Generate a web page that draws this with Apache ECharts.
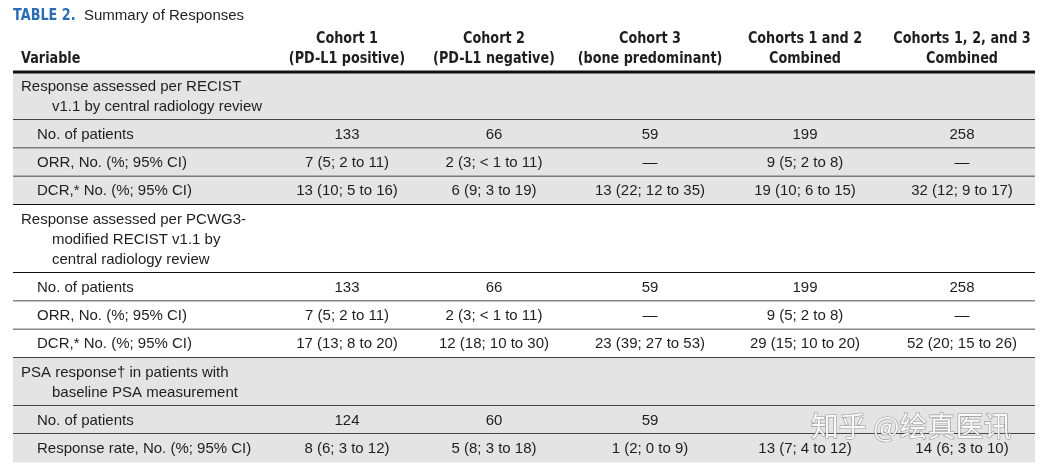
<!DOCTYPE html>
<html><head><meta charset="utf-8">
<script src="https://cdn.jsdelivr.net/npm/echarts@6/dist/echarts.min.js"></script>
<style>html,body{margin:0;padding:0;background:#fff}#c{width:1042px;height:474px}</style>
</head><body><div id="c"></div>
<script>
// ---- data ----
const columnHeaders = [["", "Variable"], ["Cohort 1", "(PD-L1 positive)"], ["Cohort 2", "(PD-L1 negative)"], ["Cohort 3", "(bone predominant)"], ["Cohorts 1 and 2", "Combined"], ["Cohorts 1, 2, and 3", "Combined"]];
const sectionLabels = [
  ["Response assessed per RECIST", "v1.1 by central radiology review"],
  ["Response assessed per PCWG3-", "modified RECIST v1.1 by", "central radiology review"],
  ["PSA response† in patients with", "baseline PSA measurement"]
];
const rowLabels = [
  ["No. of patients", "ORR, No. (%; 95% CI)", "DCR,* No. (%; 95% CI)"],
  ["No. of patients", "ORR, No. (%; 95% CI)", "DCR,* No. (%; 95% CI)"],
  ["No. of patients", "Response rate, No. (%; 95% CI)"]
];
const rowValues = [
  [["133","66","59","199","258"],
   ["7 (5; 2 to 11)","2 (3; < 1 to 11)","—","9 (5; 2 to 8)","—"],
   ["13 (10; 5 to 16)","6 (9; 3 to 19)","13 (22; 12 to 35)","19 (10; 6 to 15)","32 (12; 9 to 17)"]],
  [["133","66","59","199","258"],
   ["7 (5; 2 to 11)","2 (3; < 1 to 11)","—","9 (5; 2 to 8)","—"],
   ["17 (13; 8 to 20)","12 (18; 10 to 30)","23 (39; 27 to 53)","29 (15; 10 to 20)","52 (20; 15 to 26)"]],
  [["124","60","59","",""],
   ["8 (6; 3 to 12)","5 (8; 3 to 18)","1 (2; 0 to 9)","13 (7; 4 to 12)","14 (6; 3 to 10)"]]
];
// ---- layout ----
const colX = [21, 347, 494, 650, 805, 962];
const tableLeft = 13, tableRight = 1035;
const headerTop = 25, headerBottom = 72;
const sectionLineH = 20, dataRowH = 28.3;
const sectionShade = ['#e4e4e4', '#ffffff', '#e4e4e4'];

const rows = [];
let y = headerBottom;
sectionLabels.forEach((lab, s) => {
  const h = lab.length * sectionLineH + 8;
  rows.push({kind:'section', s, y0:y, y1:y+h, lines:lab});
  y += h;
  rowLabels[s].forEach((rl, r) => {
    rows.push({kind:'data', s, y0:y, y1:y+dataRowH, label:rl, vals:rowValues[s][r], last: s===2 && r===rowLabels[s].length-1});
    y += dataRowH;
  });
});

const font = "'Liberation Sans', Arial, sans-serif";
const hfont = "'DejaVu Sans', sans-serif";
const txtColor = '#1e1e1e';
const fs = '15px ';

function renderItem(params, api) {
  const row = rows[api.value(0)];
  const p0 = api.coord([tableLeft, row.y0]);
  const p1 = api.coord([tableRight, row.y1]);
  const ch = [];
  ch.push({type:'rect', shape:{x:p0[0], y:p0[1], width:p1[0]-p0[0], height:p1[1]-p0[1]}, style:{fill:sectionShade[row.s]}});
  if (!row.last) ch.push({type:'line', shape:{x1:p0[0], y1:p1[1], x2:p1[0], y2:p1[1]}, style:{stroke:'#111', lineWidth:1.6}});
  if (row.kind === 'section') {
    row.lines.forEach((t, k) => {
      const c = api.coord([k === 0 ? colX[0] : colX[0] + 31, row.y0 + 15 + k * sectionLineH]);
      ch.push({type:'text', x:c[0], y:c[1], style:{text:t, font:fs + font, fill:txtColor, textVerticalAlign:'middle', textAlign:'left'}});
    });
  } else {
    const cy = (row.y0 + row.y1) / 2 + 0.5;
    const c = api.coord([colX[0] + 16, cy]);
    ch.push({type:'text', x:c[0], y:c[1], style:{text:row.label, font:fs + font, fill:txtColor, textVerticalAlign:'middle', textAlign:'left'}});
    row.vals.forEach((v, j) => {
      const cc = api.coord([colX[j+1], cy]);
      ch.push({type:'text', x:cc[0], y:cc[1], style:{text:v, font:fs + font, fill:txtColor, textVerticalAlign:'middle', textAlign:'center'}});
    });
  }
  return {type:'group', children:ch};
}

function renderHeader(params, api) {
  const ch = [];
  const p0 = api.coord([tableLeft, headerBottom]);
  const p1 = api.coord([tableRight, headerBottom]);
  ch.push({type:'line', shape:{x1:p0[0], y1:p0[1], x2:p1[0], y2:p1[1]}, style:{stroke:'#111', lineWidth:3}});
  columnHeaders.forEach((h, j) => {
    h.forEach((t, k) => {
      const c = api.coord([colX[j], headerTop + 14 + k * 20]);
      ch.push({type:'text', x:c[0], y:c[1], scaleX:0.8, style:{text:t, font:'bold 16px ' + hfont, fill:txtColor, textVerticalAlign:'middle', textAlign: j === 0 ? 'left' : 'center'}});
    });
  });
  return {type:'group', children:ch};
}

const chart = echarts.init(document.getElementById('c'));
chart.setOption({
  animation:false,
  grid:{left:0, right:0, top:0, bottom:0},
  xAxis:{type:'value', min:0, max:1042, show:false},
  yAxis:{type:'value', min:0, max:474, inverse:true, show:false},
  series:[
    {type:'custom', renderItem:renderItem, data:rows.map((r,i)=>[i]), silent:true},
    {type:'custom', renderItem:renderHeader, data:[[0]], silent:true}
  ],
  graphic:[
    {type:'text', left:13, top:8, scaleX:0.8, style:{text:'TABLE 2.', font:"bold 16px 'DejaVu Sans'", fill:'#2a6db5'}},
    {type:'text', left:84, top:8, style:{text:'Summary of Responses', font:"15px 'Liberation Sans'", fill:'#222'}},
    {type:'text', right:30, top:412, z:100,
    style:{text:'知乎 @绘真医讯', font:"28px 'Noto Sans CJK SC'", fill:'rgba(255,255,255,0.9)', stroke:'rgba(90,90,90,0.55)', lineWidth:1.2}}]
});
</script></body></html>
